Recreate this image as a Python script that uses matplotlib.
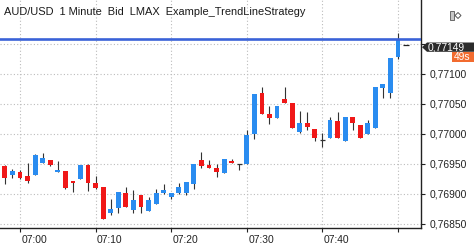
import matplotlib
matplotlib.use("Agg")
import matplotlib.pyplot as plt
from matplotlib.patches import Polygon, Rectangle
from matplotlib.transforms import ScaledTranslation
import numpy as np

plt.rcParams['font.family'] = ['Liberation Sans', 'DejaVu Sans']

# minutes relative to 07:00
minutes = list(range(-2, 51))
opens = [0.76947, 0.76932, 0.76936, 0.76930, 0.76932, 0.76951, 0.76956, 0.76937, 0.76938, 0.76922,
         0.76925, 0.76949, 0.76919, 0.76912, 0.76868, 0.76876, 0.76902, 0.76873, 0.76898, 0.76871,
         0.76883, 0.76901, 0.76895, 0.76901, 0.76901, 0.76917, 0.76956, 0.76948, 0.76944, 0.76935,
         0.76955, 0.76950, 0.76950, 0.77000, 0.77069, 0.77033, 0.77026, 0.77058, 0.77051, 0.77004,
         0.77019, 0.77008, 0.76990, 0.76993, 0.77022, 0.76989, 0.77029, 0.77015, 0.77000, 0.77010,
         0.77076, 0.77069, 0.77129]
highs = [0.76948, 0.76941, 0.76940, 0.76951, 0.76966, 0.76968, 0.76956, 0.76955, 0.76938, 0.76922,
         0.76949, 0.76950, 0.76930, 0.76912, 0.76891, 0.76904, 0.76911, 0.76907, 0.76898, 0.76895,
         0.76909, 0.76917, 0.76902, 0.76918, 0.76920, 0.76950, 0.76970, 0.76957, 0.76950, 0.76958,
         0.76958, 0.76950, 0.77007, 0.77067, 0.77078, 0.77046, 0.77047, 0.77078, 0.77051, 0.77039,
         0.77037, 0.77008, 0.77001, 0.77028, 0.77037, 0.77029, 0.77029, 0.77015, 0.77023, 0.77078,
         0.77084, 0.77126, 0.77168]
lows = [0.76916, 0.76927, 0.76925, 0.76918, 0.76932, 0.76951, 0.76947, 0.76936, 0.76909, 0.76903,
        0.76925, 0.76905, 0.76909, 0.76859, 0.76865, 0.76868, 0.76879, 0.76868, 0.76869, 0.76871,
        0.76883, 0.76900, 0.76891, 0.76900, 0.76899, 0.76909, 0.76943, 0.76944, 0.76929, 0.76935,
        0.76951, 0.76940, 0.76950, 0.76992, 0.77034, 0.77017, 0.77026, 0.77051, 0.77010, 0.77001,
        0.77007, 0.76988, 0.76979, 0.76993, 0.76993, 0.76989, 0.77007, 0.76993, 0.77000, 0.77010,
        0.77060, 0.77060, 0.77125]
closes = [0.76927, 0.76938, 0.76927, 0.76921, 0.76965, 0.76960, 0.76948, 0.76940, 0.76910, 0.76918,
          0.76949, 0.76918, 0.76910, 0.76859, 0.76875, 0.76904, 0.76879, 0.76890, 0.76879, 0.76890,
          0.76902, 0.76906, 0.76902, 0.76912, 0.76920, 0.76950, 0.76947, 0.76944, 0.76937, 0.76958,
          0.76951, 0.76950, 0.76998, 0.77067, 0.77034, 0.77026, 0.77047, 0.77051, 0.77010, 0.77019,
          0.77012, 0.76994, 0.76990, 0.77023, 0.76993, 0.77029, 0.77019, 0.76993, 0.77018, 0.77078,
          0.77084, 0.77126, 0.77158]

trend_level = 0.771583
last_price = 0.77149
last_price_label = "0,77149"
timer_label = "49s"

x_ticks = [0, 10, 20, 30, 40, 50]
x_labels = ["07:00", "07:10", "07:20", "07:30", "07:40", ""]
y_ticks = [0.7685, 0.7690, 0.7695, 0.7700, 0.7705, 0.7710, 0.7715]
y_labels = ["0,76850", "0,76900", "0,76950", "0,77000", "0,77050", "0,77100", ""]

title = "AUD/USD  1 Minute  Bid  LMAX  Example_TrendLineStrategy"

W, H = 474, 244
fig = plt.figure(figsize=(W / 100, H / 100), dpi=100)
ax = fig.add_axes([0, 1 - 228 / H, 421 / W, 228 / H])

BLUE = '#2a8cf0'
RED = '#f01818'
WICK = '#333333'

o = np.array(opens); h = np.array(highs); l = np.array(lows); c = np.array(closes)
x = np.array(minutes)

ax.vlines(x, l, h, color=WICK, lw=0.8, zorder=3)
for xi, oi, ci in zip(x, o, c):
    if abs(ci - oi) < 0.00002:
        ax.hlines(oi, xi - 0.33, xi + 0.33, color=WICK, lw=0.9, zorder=4)
    else:
        col = BLUE if ci > oi else RED
        ax.bar(xi, abs(ci - oi), bottom=min(oi, ci), width=0.64, color=col,
               edgecolor='none', zorder=4)

# grid
for t in x_ticks:
    ax.axvline(t, color='#bcbcbc', lw=0.8, ls=(0, (1, 2)), zorder=1)
for t in y_ticks:
    ax.axhline(t, color='#bcbcbc', lw=0.8, ls=(0, (1, 2)), zorder=1)

ax.axhline(trend_level, color='#3a62d8', lw=1.9, zorder=5)
ax.hlines(last_price, 50.7, 51.4, color='#222222', lw=0.9, zorder=5)

ax.set_xlim(-2.646, 53.04)
ax.set_ylim(0.768433, 0.772233)

ax.set_xticks(x_ticks)
ax.set_xticklabels(x_labels)
ax.set_yticks(y_ticks)
ax.set_yticklabels(y_labels)
ax.yaxis.tick_right()
ax.tick_params(axis='both', labelsize=7.4, colors='#222222', length=3, width=0.8, pad=2)
ax.tick_params(axis='y', pad=3)
offset = ScaledTranslation(1.5 / 100, 0, fig.dpi_scale_trans)
for lab in ax.get_xticklabels():
    lab.set_horizontalalignment('left')
    lab.set_transform(lab.get_transform() + offset)
for s in ['top', 'left']:
    ax.spines[s].set_visible(False)
for s in ['bottom', 'right']:
    ax.spines[s].set_color('#222222')
    ax.spines[s].set_linewidth(1.0)

ax.text(4 / 421, 1 - 12 / 228, title, transform=ax.transAxes, fontsize=7.9,
        color='#1a1a1a', va='center', ha='left')

def fp(px, py):
    return (px / W, 1 - py / H)

# price label
poly = Polygon([fp(422, 47.2), fp(427, 42.5), fp(474, 42.5), fp(474, 51.8), fp(427, 51.8)],
               closed=True, transform=fig.transFigure, facecolor='#2b2b2b', edgecolor='none')
fig.patches.append(poly)
fig.text(*fp(428, 47.4), last_price_label, color='white', fontsize=7.4, va='center', ha='left')
rect = Rectangle(fp(452, 61.5), 22 / W, 9.5 / H, transform=fig.transFigure,
                 facecolor='#f26b2f', edgecolor='none')
fig.patches.append(rect)
fig.text(*fp(454, 56.8), timer_label, color='white', fontsize=7.4, va='center', ha='left')

# small icon at top right
icon = Rectangle(fp(450, 19.5), 4 / W, 8 / H, transform=fig.transFigure,
                 facecolor='#c8c8c8', edgecolor='#555555', lw=0.6)
fig.patches.append(icon)
diamond = Polygon([fp(455, 15.5), fp(458, 12.5), fp(461, 15.5), fp(458, 18.5)], closed=True,
                  transform=fig.transFigure, facecolor='none', edgecolor='#555555', lw=0.7)
fig.patches.append(diamond)

fig.savefig('out.png', dpi=100, facecolor='white')
